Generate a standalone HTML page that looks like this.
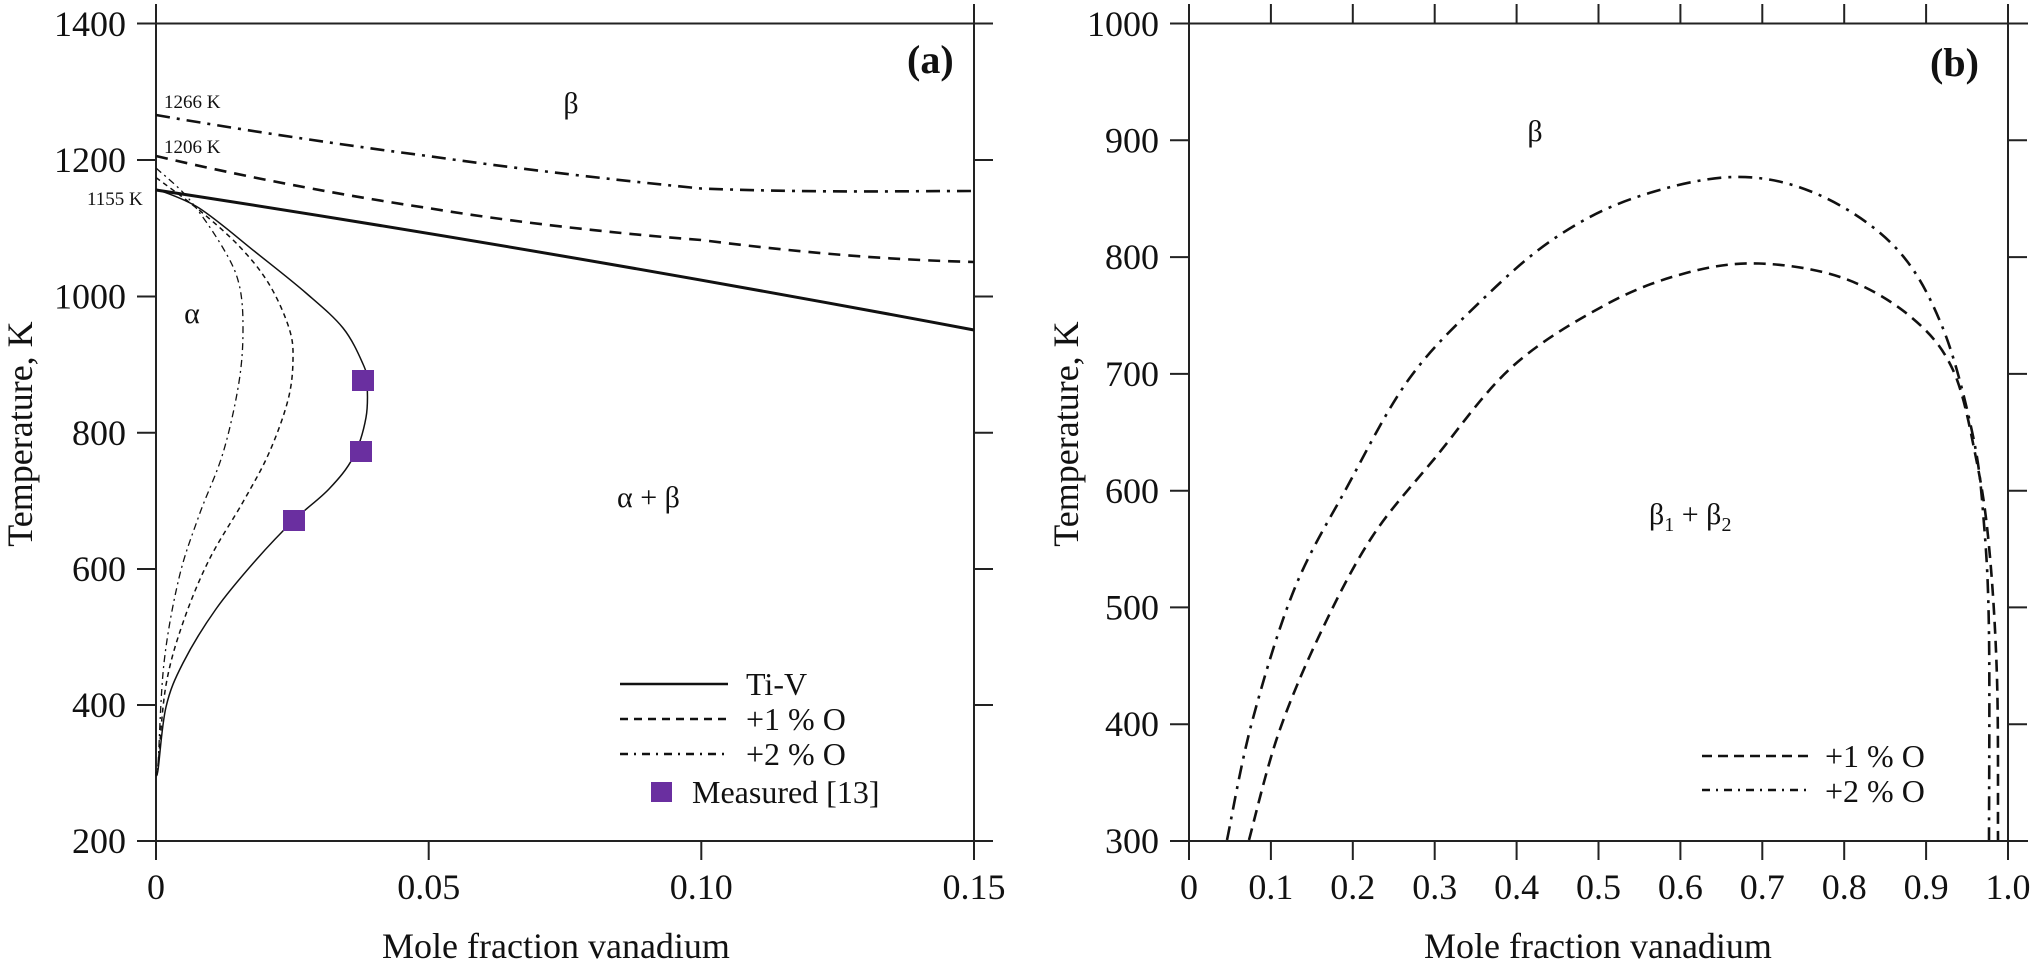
<!DOCTYPE html>
<html><head><meta charset="utf-8"><style>
html,body{margin:0;padding:0;background:#fff}
svg{display:block}
text{font-family:"Liberation Serif",serif;fill:#111}
</style></head><body>
<svg id="s" width="2032" height="967" viewBox="0 0 2032 967" xmlns="http://www.w3.org/2000/svg">
<g stroke="#222" stroke-width="2" fill="none">
<line x1="137" y1="23.5" x2="993" y2="23.5"/>
<line x1="137" y1="841" x2="993" y2="841"/>
<line x1="156" y1="4" x2="156" y2="860"/>
<line x1="974" y1="4" x2="974" y2="860"/>
<line x1="137" y1="160" x2="156" y2="160"/>
<line x1="137" y1="296.5" x2="156" y2="296.5"/>
<line x1="137" y1="432.7" x2="156" y2="432.7"/>
<line x1="137" y1="569" x2="156" y2="569"/>
<line x1="137" y1="705" x2="156" y2="705"/>
<line x1="974" y1="160" x2="993" y2="160"/>
<line x1="974" y1="296.5" x2="993" y2="296.5"/>
<line x1="974" y1="432.7" x2="993" y2="432.7"/>
<line x1="974" y1="569" x2="993" y2="569"/>
<line x1="974" y1="705" x2="993" y2="705"/>
<line x1="428.7" y1="841" x2="428.7" y2="860"/>
<line x1="701.3" y1="841" x2="701.3" y2="860"/>
<line x1="1170" y1="23.5" x2="2028" y2="23.5"/>
<line x1="1170" y1="841" x2="2028" y2="841"/>
<line x1="1189" y1="4" x2="1189" y2="860"/>
<line x1="2008" y1="4" x2="2008" y2="860"/>
</g>
<g stroke="#222" stroke-width="2">
<path d="M1170 140.3H1189M1170 257.1H1189M1170 373.9H1189M1170 490.7H1189M1170 607.4H1189M1170 724.2H1189
M2008 140.3H2027M2008 257.1H2027M2008 373.9H2027M2008 490.7H2027M2008 607.4H2027M2008 724.2H2027"/>
<path d="M1270.9 4V23.5M1352.8 4V23.5M1434.7 4V23.5M1516.6 4V23.5M1598.5 4V23.5M1680.4 4V23.5M1762.3 4V23.5M1844.2 4V23.5M1926.1 4V23.5
M1270.9 841V860M1352.8 841V860M1434.7 841V860M1516.6 841V860M1598.5 841V860M1680.4 841V860M1762.3 841V860M1844.2 841V860M1926.1 841V860"/>
</g>

<g font-size="36" text-anchor="end">
<text x="126" y="36">1400</text>
<text x="126" y="172">1200</text>
<text x="126" y="308.5">1000</text>
<text x="126" y="445">800</text>
<text x="126" y="581">600</text>
<text x="126" y="717">400</text>
<text x="126" y="853">200</text>
</g>
<g font-size="36" text-anchor="middle">
<text x="156" y="899">0</text>
<text x="428.7" y="899">0.05</text>
<text x="701.3" y="899">0.10</text>
<text x="974" y="899">0.15</text>
<text x="556" y="958">Mole fraction vanadium</text>
<text transform="translate(32,434) rotate(-90)">Temperature, K</text>
</g>

<g font-size="36" text-anchor="end">
<text x="1159" y="36">1000</text>
<text x="1159" y="152.5">900</text>
<text x="1159" y="269">800</text>
<text x="1159" y="386">700</text>
<text x="1159" y="503">600</text>
<text x="1159" y="619.5">500</text>
<text x="1159" y="736">400</text>
<text x="1159" y="853">300</text>
</g>
<g font-size="36" text-anchor="middle">
<text x="1189" y="899">0</text>
<text x="1270.9" y="899">0.1</text>
<text x="1352.8" y="899">0.2</text>
<text x="1434.7" y="899">0.3</text>
<text x="1516.6" y="899">0.4</text>
<text x="1598.5" y="899">0.5</text>
<text x="1680.4" y="899">0.6</text>
<text x="1762.3" y="899">0.7</text>
<text x="1844.2" y="899">0.8</text>
<text x="1926.1" y="899">0.9</text>
<text x="2008" y="899">1.0</text>
<text x="1598" y="958">Mole fraction vanadium</text>
<text transform="translate(1078,434) rotate(-90)">Temperature, K</text>
</g>

<text x="907" y="73" font-size="40" font-weight="bold">(a)</text>
<text x="1930" y="76" font-size="40" font-weight="bold">(b)</text>

<g font-size="30">
<text x="571" y="113" text-anchor="middle">β</text>
<text x="192" y="323" text-anchor="middle">α</text>
<text x="617" y="507">α + β</text>
<text x="1535" y="141" text-anchor="middle">β</text>
<text x="1649" y="524">β<tspan font-size="20" dy="7">1</tspan><tspan dy="-7"> + β</tspan><tspan font-size="20" dy="7">2</tspan></text>
</g>
<g font-size="19">
<text x="164" y="108">1266 K</text>
<text x="164" y="153">1206 K</text>
<text x="87" y="205">1155 K</text>
</g>

<g fill="none" stroke="#111">
<path d="M156 190 Q560 252 974 330" stroke-width="3"/>
<path d="M156 156 C300 190 428 208 428 208 C560 230 701 240 701 240 C820 255 900 260 974 262" stroke-width="2.6" stroke-dasharray="12 8"/>
<path d="M156 115 C300 140 428 156 428 156 C560 175 701 188.5 701 188.5 C820 193 900 191 974 191" stroke-width="2.6" stroke-dasharray="14 7 3 7"/>
<path class="sm" data-p="156,189 199,208 256,252.5 306,293 343,328 363,364 367,382 366,417.5 353,457.6 329,489 294,520 256,560 216,609 183,663 166,707 158,770 156,773" d="M156 189 L199 208 L256 252.5 L306 293 L343 328 L363 364 L367 382 L366 417.5 L353 457.6 L329 489 L294 520 L256 560 L216 609 L183 663 L166 707 L158 770 L156 773" stroke-width="1.5" stroke-linejoin="round"/>
<path class="sm" data-p="156,177.6 199,210 239,246 269,284 289,328 293,359.5 288,400 269,453 243,502 209,560 183,622.6 166,685 158,765 156,773" d="M156 177.6 L199 210 L239 246 L269 284 L289 328 L293 359.5 L288 400 L269 453 L243 502 L209 560 L183 622.6 L166 685 L158 765 L156 773" stroke-width="1.5" stroke-dasharray="5 4"/>
<path class="sm" data-p="156,168 189,199 223,248 239,284 243,328 239,382 223,453 199,515.6 179,578 164,663 158,765 156,773" d="M156 168 L189 199 L223 248 L239 284 L243 328 L239 382 L223 453 L199 515.6 L179 578 L164 663 L158 765 L156 773" stroke-width="1.3" stroke-dasharray="7 4 2 4"/>
</g>
<g fill="#6a2fa0">
<rect x="352" y="370" width="22" height="21"/>
<rect x="350" y="441" width="22" height="21"/>
<rect x="283" y="510" width="22" height="21"/>
</g>

<g stroke="#111" stroke-width="2.6">
<line x1="620" y1="684" x2="728" y2="684"/>
<line x1="620" y1="719" x2="728" y2="719" stroke-dasharray="8 6"/>
<line x1="620" y1="754" x2="728" y2="754" stroke-dasharray="8 6 2 6"/>
</g>
<rect x="651" y="782" width="21" height="20" fill="#6a2fa0"/>
<g font-size="32">
<text x="746" y="695">Ti-V</text>
<text x="746" y="730">+1 % O</text>
<text x="746" y="765">+2 % O</text>
<text x="692" y="803">Measured [13]</text>
</g>

<g fill="none" stroke="#111" stroke-width="2.6">
<path class="sm" data-p="1227,840 1252,722 1294,590 1346,489 1409,379 1482,300 1555,238 1634,198 1733,177 1817,194 1895,247 1942,326 1973,436 1984,524 1989,634 1989,840" d="M1227 840 L1252 722 L1294 590 L1346 489 L1409 379 L1482 300 L1555 238 L1634 198 L1733 177 L1817 194 L1895 247 L1942 326 L1973 436 L1984 524 L1989 634 L1989 840" stroke-dasharray="14 7 3 7" stroke-linejoin="round"/>
<path class="sm" data-p="1249,840 1278,735 1320,634 1372,537 1435,458 1513,366 1607,304 1686,273 1759,263.5 1843,278 1911,317 1953,370 1976,458 1989,546 1997,678 1998,840" d="M1249 840 L1278 735 L1320 634 L1372 537 L1435 458 L1513 366 L1607 304 L1686 273 L1759 263.5 L1843 278 L1911 317 L1953 370 L1976 458 L1989 546 L1997 678 L1998 840" stroke-dasharray="12 7" stroke-linejoin="round"/>
</g>
<g stroke="#111" stroke-width="2.6">
<line x1="1702" y1="756" x2="1812" y2="756" stroke-dasharray="10 6"/>
<line x1="1702" y1="790" x2="1812" y2="790" stroke-dasharray="8 6 2 6"/>
</g>
<g font-size="32">
<text x="1825" y="767">+1 % O</text>
<text x="1825" y="802">+2 % O</text>
</g>
</svg>
<script>
document.querySelectorAll('path.sm').forEach(function(el){
  var p=el.getAttribute('data-p').split(' ').map(function(s){return s.split(',').map(Number);});
  var d='M'+p[0][0]+' '+p[0][1];
  for(var i=0;i<p.length-1;i++){
    var p0=p[i-1]||p[i],p1=p[i],p2=p[i+1],p3=p[i+2]||p2;
    var c1x=p1[0]+(p2[0]-p0[0])/6,c1y=p1[1]+(p2[1]-p0[1])/6;
    var c2x=p2[0]-(p3[0]-p1[0])/6,c2y=p2[1]-(p3[1]-p1[1])/6;
    d+=' C'+c1x.toFixed(1)+' '+c1y.toFixed(1)+' '+c2x.toFixed(1)+' '+c2y.toFixed(1)+' '+p2[0]+' '+p2[1];
  }
  el.setAttribute('d',d);
});
</script>
</body></html>
